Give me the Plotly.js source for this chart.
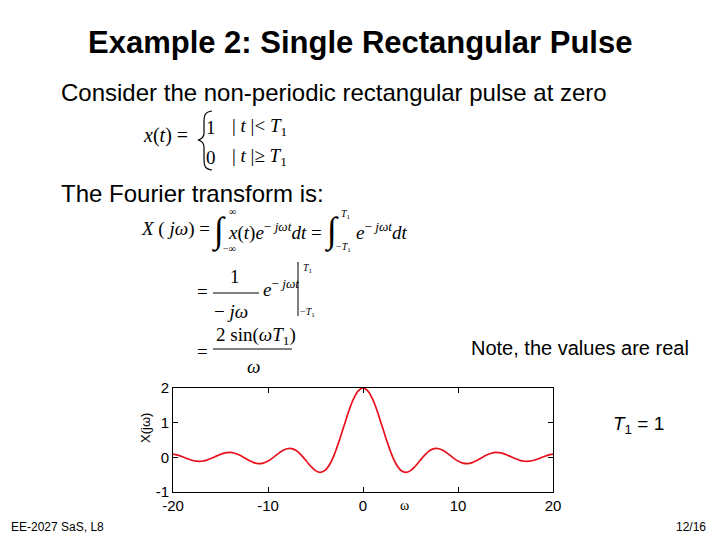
<!DOCTYPE html>
<html><head><meta charset="utf-8">
<script src="https://cdn.plot.ly/plotly-3.0.1.min.js"></script>
<style>html,body{margin:0;padding:0;background:#fff}#plot{width:720px;height:540px}</style>
</head><body><div id="plot"></div>
<script>
const omega = [-20,-19.5,-19,-18.5,-18,-17.5,-17,-16.5,-16,-15.5,-15,-14.5,-14,-13.5,-13,-12.5,-12,-11.5,-11,-10.5,-10,-9.5,-9,-8.5,-8,-7.5,-7,-6.5,-6,-5.5,-5,-4.5,-4,-3.5,-3,-2.5,-2,-1.5,-1,-0.5,0,0.5,1,1.5,2,2.5,3,3.5,4,4.5,5,5.5,6,6.5,7,7.5,8,8.5,9,9.5,10,10.5,11,11.5,12,12.5,13,13.5,14,14.5,15,15.5,16,16.5,17,17.5,18,18.5,19,19.5,20];
const Xjw = [0.0913,0.0622,0.0158,-0.0366,-0.0834,-0.1120,-0.1131,-0.0864,-0.0360,0.0272,0.0867,0.1290,0.1415,0.1191,0.0646,-0.0106,-0.0894,-0.1523,-0.1818,-0.1676,-0.1088,-0.0158,0.0916,0.1879,0.2473,0.2501,0.1877,0.0662,-0.0931,-0.2565,-0.3836,-0.4345,-0.3784,-0.2004,0.0941,0.4788,0.9093,1.3300,1.6829,1.9177,2.0000,1.9177,1.6829,1.3300,0.9093,0.4788,0.0941,-0.2004,-0.3784,-0.4345,-0.3836,-0.2565,-0.0931,0.0662,0.1877,0.2501,0.2473,0.1879,0.0916,-0.0158,-0.1088,-0.1676,-0.1818,-0.1523,-0.0894,-0.0106,0.0646,0.1191,0.1415,0.1290,0.0867,0.0272,-0.0360,-0.0864,-0.1131,-0.1120,-0.0834,-0.0366,0.0158,0.0622,0.0913];
const xTicks = [-20,-10,0,10,20];
const yTicks = [-1,0,1,2];

const L=173,R=553,T=388,B=492;
function px(x){return (x-L)/(R-L);}
function py(y){return (B-y)/(B-T);}
const SANS='"Liberation Sans", Arial, sans-serif';
const SERIF='"Liberation Serif", "Times New Roman", serif';
function ann(text,x,y,size,family,extra){
  return Object.assign({text:text,xref:'paper',yref:'paper',x:px(x),y:py(y),xanchor:'left',yanchor:'middle',showarrow:false,borderpad:0,font:{size:size,family:family,color:'#000'}},extra||{});
}
function line(x0,y0,x1,y1,w){
  return {type:'line',xref:'paper',yref:'paper',x0:px(x0),y0:py(y0),x1:px(x1),y1:py(y1),line:{color:'#000',width:w||1}};
}
function path(pts){
  let s='';
  pts.forEach(p=>{s+=p[0]; for(let i=1;i<p.length;i+=2){s+=px(p[i])+','+py(p[i+1])+' ';}});
  return {type:'path',xref:'paper',yref:'paper',path:s,line:{color:'#000',width:1.2}};
}

const annotations=[
  ann('<b>Example 2: Single Rectangular Pulse</b>',360,42,31,SANS,{xanchor:'center'}),
  ann('Consider the non-periodic rectangular pulse at zero',60,92,24,SANS),
  ann('The Fourier transform is:',60,193,24,SANS),
  // x(t) definition
  ann('<i>x</i>(<i>t</i>) =',142,135,20,SERIF),
  ann('1',205,127,19,SERIF),
  ann('| <i>t</i> |&lt; <i>T</i><sub>1</sub>',231,127,19,SERIF),
  ann('0',205,157,19,SERIF),
  ann('| <i>t</i> |≥ <i>T</i><sub>1</sub>',231,157,19,SERIF),
  // Fourier integral
  ann('<i>X</i> ( <i>jω</i>) =',140,229,19,SERIF),
  ann('∫',211,231,36,SERIF),
  ann('∞',228,212,10,SERIF),
  ann('−∞',222,248,10,SERIF),
  ann('<i>x</i>(<i>t</i>)<i>e</i><sup>− <i>jωt</i></sup><i>dt</i> =',227,231,19,SERIF),
  ann('∫',324,231,36,SERIF),
  ann('<i>T</i><sub>1</sub>',340,214,10,SERIF),
  ann('−<i>T</i><sub>1</sub>',335,247,10,SERIF),
  ann('<i>e</i><sup>− <i>jωt</i></sup><i>dt</i>',355,231,19,SERIF),
  // second line
  ann('=',196,291,19,SERIF),
  ann('1',229,276,19,SERIF),
  ann('− <i>jω</i>',213,311,19,SERIF),
  ann('<i>e</i><sup>− <i>jωt</i></sup>',262,288,19,SERIF),
  ann('<i>T</i><sub>1</sub>',302,268,10,SERIF),
  ann('−<i>T</i><sub>1</sub>',299,312,10,SERIF),
  // third line
  ann('=',196,351,19,SERIF),
  ann('2 sin(<i>ωT</i><sub>1</sub>)',215,336,19,SERIF),
  ann('<i>ω</i>',246,366,19,SERIF),
  // notes
  ann('Note, the values are real',470,348,20,SANS),
  ann('<i>T</i><sub>1</sub> = 1',612,425,19,SANS),
  ann('EE-2027 SaS, L8',10,527,12,SANS),
  ann('12/16',707,527,12,SANS,{xanchor:'right'}),
  // axis titles
  ann('ω',399,505,14,SERIF),
  ann('X(jω)',145,428,13,SANS,{xanchor:'center',textangle:-90})
];

const shapes=[
  line(213,293,259,293,1),
  line(213,349,292,349,1),
  line(298,262,298,316,1),
  path([['M',212,111],['C',205,112,204,115,204,122],['L',204,133],['C',204,137,202,139,198,140],['C',202,141,204,143,204,147],['L',204,160],['C',204,166,205,169,212,170]])
];

const trace={x:omega,y:Xjw,type:'scatter',mode:'lines',line:{color:'#e8101c',width:1.7,shape:'spline'},hoverinfo:'skip'};

const layout={
  width:720,height:540,
  margin:{l:L,r:720-R,t:T,b:540-B,pad:0},
  paper_bgcolor:'#fff',plot_bgcolor:'#fff',
  showlegend:false,
  xaxis:{range:[-20,20],tickvals:xTicks,ticktext:xTicks.map(String),ticks:'inside',ticklen:5,tickcolor:'#000',mirror:'ticks',showline:true,linecolor:'#000',linewidth:1,showgrid:false,zeroline:false,tickfont:{family:SANS,size:15,color:'#000'}},
  yaxis:{range:[-1,2],tickvals:yTicks,ticktext:yTicks.map(String),ticks:'inside',ticklen:5,tickcolor:'#000',mirror:'ticks',showline:true,linecolor:'#000',linewidth:1,showgrid:false,zeroline:false,tickfont:{family:SANS,size:15,color:'#000'}},
  annotations:annotations,
  shapes:shapes
};
Plotly.newPlot('plot',[trace],layout,{staticPlot:true,displayModeBar:false});
</script></body></html>
